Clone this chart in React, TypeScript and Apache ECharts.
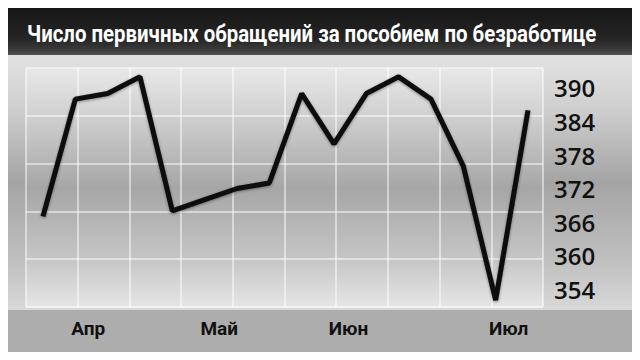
import React, { useEffect, useRef } from "react";
import * as echarts from "echarts";

const titleText = "Число первичных обращений за пособием по безработице";
const weeklyClaims = [367, 388, 389, 392, 368, 370, 372, 373, 389, 380, 389, 392, 388, 376, 352, 386];
const weekIndex = weeklyClaims.map((_, i) => i);
const monthLabels = ["Апр", "Май", "Июн", "Июл"];
const monthPositions = [1.4, 5.45, 9.45, 14.4];
const yTickLabels = [354, 360, 366, 372, 378, 384, 390];

export default function App() {
  const ref = useRef<HTMLDivElement>(null);
  useEffect(() => {
    if (!ref.current) return;
    const chart = echarts.init(ref.current, undefined, { renderer: "svg" });
    const vGrad = (stops: [number, string][]) =>
      new echarts.graphic.LinearGradient(0, 0, 0, 1, stops.map(([offset, color]) => ({ offset, color })));
    chart.setOption({
      animation: false,
      backgroundColor: "#adadad",
      graphic: [
        {
          type: "rect",
          z: -10,
          shape: { x: 0, y: 0, width: 640, height: 55 },
          style: { fill: vGrad([[0, "#141414"], [0.7, "#242424"], [0.9, "#3a3a3a"], [1, "#555555"]]) },
        },
        {
          type: "rect",
          z: -10,
          shape: { x: 0, y: 55, width: 640, height: 255 },
          style: {
            fill: vGrad([
              [0, "#e2e2e2"],
              [0.2, "#d0d0d0"],
              [0.5, "#a4a4a4"],
              [0.8, "#bfbfbf"],
              [1, "#d8d8d8"],
            ]),
          },
        },
        {
          type: "rect",
          z: -9,
          shape: { x: 26, y: 68, width: 517, height: 240 },
          style: {
            fill: vGrad([
              [0, "#e8e8e8"],
              [0.2, "#d0d0d0"],
              [0.5, "#a6a6a6"],
              [0.8, "#c6c6c6"],
              [1, "#e6e6e6"],
            ]),
          },
        },
        {
          type: "text",
          z: 10,
          x: 27,
          y: 33,
          scaleX: 0.85,
          style: {
            text: titleText,
            fill: "#ffffff",
            font: "bold 24px Roboto, 'Noto Sans', sans-serif",
            textVerticalAlign: "middle",
            shadowColor: "rgba(0,0,0,0.9)",
            shadowBlur: 3,
            shadowOffsetX: 1,
            shadowOffsetY: 1,
          },
        },
      ],
      grid: { left: 26, right: 97, top: 68, bottom: 53 },
      xAxis: [
        {
          type: "value",
          min: -0.526,
          max: 15.464,
          axisLine: { show: false },
          axisTick: { show: false },
          splitLine: { show: false },
          axisLabel: {
            customValues: monthPositions,
            formatter: (v: number) => {
              const i = monthPositions.findIndex((p) => Math.abs(p - v) < 0.01);
              return i >= 0 ? monthLabels[i] : "";
            },
            color: "#111",
            fontSize: 19,
            fontWeight: "bold",
            fontFamily: "Roboto, sans-serif",
            margin: 12,
          },
        },
        {
          type: "value",
          min: 0,
          max: 10,
          interval: 1,
          axisLine: { show: false },
          axisTick: { show: false },
          axisLabel: { show: false },
          splitLine: { show: true, lineStyle: { color: "rgba(255,255,255,0.65)", width: 1.5 } },
        },
      ],
      yAxis: [
        {
          type: "value",
          position: "right",
          min: 350.78,
          max: 393.58,
          axisLine: { show: false },
          axisTick: { show: false },
          splitLine: { show: false },
          axisLabel: {
            customValues: yTickLabels,
            color: "#111",
            fontSize: 24,
            fontFamily: "'Open Sans', 'Liberation Sans', sans-serif",
            fontWeight: 600,
            margin: 11,
          },
        },
        {
          type: "value",
          min: 0,
          max: 5,
          interval: 1,
          axisLine: { show: false },
          axisTick: { show: false },
          axisLabel: { show: false },
          splitLine: { show: true, lineStyle: { color: "rgba(255,255,255,0.65)", width: 1.5 } },
        },
      ],
      series: [
        {
          type: "line",
          xAxisIndex: 0,
          yAxisIndex: 0,
          data: weekIndex.map((i) => [i, weeklyClaims[i]]),
          symbol: "none",
          lineStyle: {
            color: "#0c0c0c",
            width: 5,
            shadowColor: "rgba(0,0,0,0.4)",
            shadowBlur: 3,
            shadowOffsetY: 1,
          },
          z: 5,
        },
      ],
    });
    return () => chart.dispose();
  }, []);
  return <div ref={ref} style={{ width: 640, height: 360, margin: -8 }} />;
}
